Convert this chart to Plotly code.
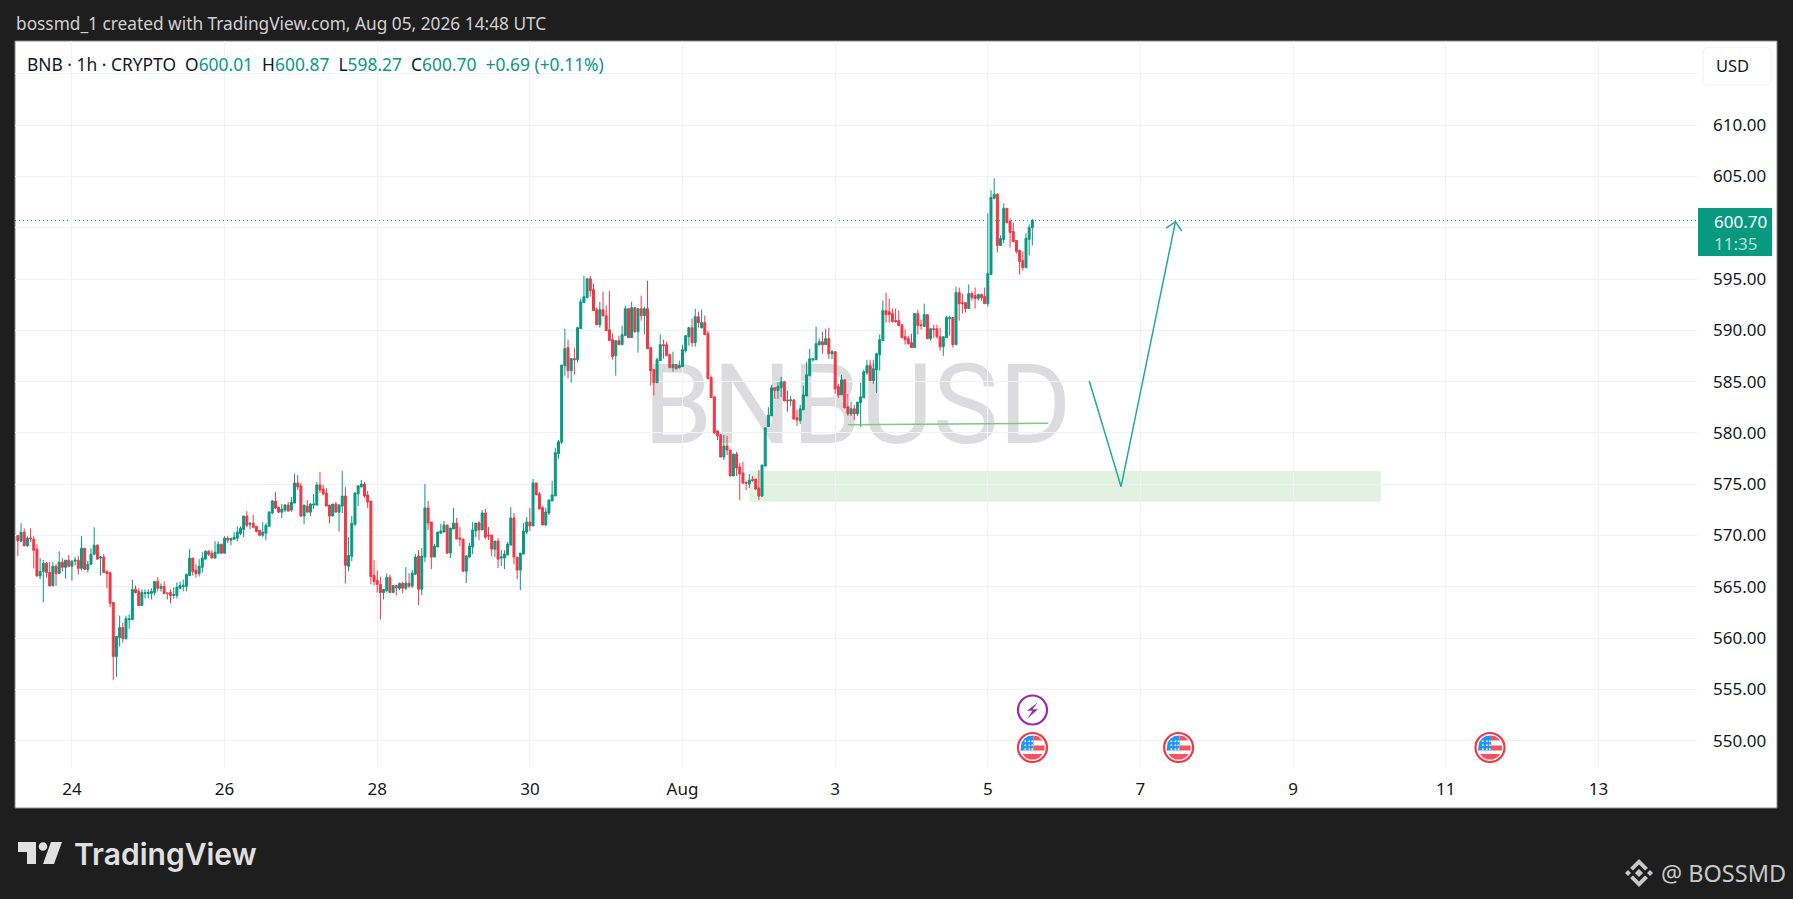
import pandas as pd
import plotly.graph_objects as go

opens = [
    570.0, 569.45, 570.33, 569.0, 569.77, 569.64, 568.66, 566.05, 566.5, 567.3,
    566.4, 565.1, 567.0, 566.3, 567.4, 566.9, 567.6, 567.0, 567.5, 567.6,
    566.8, 568.76, 566.7, 567.2, 568.17, 569.05, 567.8, 567.9, 566.5, 566.4,
    563.47, 558.2, 560.05, 561.03, 559.95, 561.8, 561.8, 564.75, 564.55, 563.18,
    564.35, 564.35, 564.35, 564.45, 565.53, 564.85, 565.04, 564.4, 564.45, 564.16,
    564.16, 564.85, 565.04, 565.04, 566.1, 567.8, 566.6, 566.3, 566.9, 567.7,
    568.47, 568.27, 567.8, 568.27, 569.15, 568.27, 569.74, 569.55, 569.64, 569.74,
    570.2, 570.6, 571.9, 571.1, 571.2, 570.9, 570.5, 570.03, 570.23, 570.9,
    572.2, 573.36, 572.77, 572.28, 572.48, 572.97, 572.48, 573.16, 575.12, 574.83,
    571.9, 572.87, 572.28, 572.97, 572.97, 574.93, 574.53, 574.14, 572.97, 571.9,
    573.07, 572.28, 572.87, 573.85, 567.0, 567.98, 571.1, 574.05, 574.73, 575.02,
    573.95, 573.36, 566.12, 565.63, 565.24, 564.45, 564.65, 565.92, 564.45, 565.14,
    564.85, 565.36, 564.87, 565.36, 565.07, 566.24, 568.0, 564.77, 567.9, 572.69,
    571.32, 567.9, 568.88, 570.24, 570.34, 571.03, 568.29, 570.64, 571.22, 569.76,
    569.66, 566.53, 567.9, 568.88, 570.44, 571.22, 570.54, 572.2, 570.05, 570.05,
    568.68, 569.46, 567.8, 567.8, 568.1, 569.07, 571.71, 567.9, 566.63, 568.19,
    570.34, 571.32, 570.93, 575.13, 574.05, 572.69, 571.03, 572.2, 573.37, 573.86,
    577.97, 579.1, 586.56, 588.31, 586.07, 587.24, 587.14, 590.16, 592.69, 593.18,
    595.03, 593.96, 592.01, 590.55, 592.01, 591.43, 590.06, 589.09, 587.53, 588.99,
    588.6, 589.48, 592.11, 589.29, 592.21, 589.87, 592.11, 591.43, 592.11, 588.31,
    586.17, 584.9, 587.05, 588.6, 588.6, 587.63, 586.36, 586.66, 586.37, 586.46,
    588.02, 589.38, 590.26, 588.8, 591.33, 590.26, 590.75, 589.68, 585.39, 583.52,
    580.2, 579.8, 577.65, 578.73, 578.34, 575.8, 577.95, 576.68, 576.09, 575.21,
    575.02, 575.45, 575.5, 574.63, 573.84, 576.77, 580.62, 581.66, 584.4, 584.14,
    584.4, 584.98, 583.22, 583.13, 583.22, 581.47, 581.2, 582.25, 583.6, 585.57,
    587.13, 587.13, 588.6, 588.89, 588.6, 589.19, 587.72, 587.92, 584.53, 583.71,
    585.18, 582.54, 581.86, 582.35, 581.86, 582.94, 583.42, 585.87, 586.55, 585.08,
    586.16, 587.62, 588.99, 591.92, 591.82, 591.63, 590.95, 590.95, 590.55, 589.38,
    589.19, 588.8, 588.31, 591.63, 590.55, 590.36, 591.53, 589.19, 590.16, 590.16,
    589.38, 588.4, 589.28, 591.14, 591.24, 588.6, 593.68, 592.7, 592.7, 592.12,
    593.58, 593.39, 593.09, 593.48, 593.29, 592.6, 595.44, 602.87, 603.26, 598.27,
    598.86, 601.89, 600.62, 599.64, 598.76, 597.79, 596.81, 596.12, 598.86, 600.01,
]
closes = [
    569.5, 570.33, 569.0, 569.74, 569.68, 568.56, 566.05, 566.5, 567.3, 566.4,
    565.1, 567.0, 566.3, 567.4, 566.9, 567.6, 567.0, 567.5, 567.6, 566.8,
    568.76, 566.7, 567.2, 568.17, 569.05, 567.7, 567.9, 566.4, 566.3, 563.4,
    558.2, 560.15, 561.03, 559.95, 561.9, 561.9, 564.75, 564.45, 563.18, 564.45,
    564.45, 564.45, 564.55, 565.53, 564.85, 565.04, 564.35, 564.35, 564.16, 564.26,
    564.95, 565.14, 565.14, 566.2, 567.8, 566.5, 566.3, 567.0, 567.8, 568.47,
    568.17, 567.8, 568.37, 569.15, 568.27, 569.74, 569.55, 569.74, 569.84, 570.33,
    570.7, 571.9, 571.0, 571.2, 570.8, 570.4, 570.03, 570.33, 571.0, 572.28,
    573.36, 572.68, 572.28, 572.58, 572.97, 572.38, 573.26, 575.12, 574.73, 571.9,
    572.97, 572.28, 573.07, 573.07, 574.93, 574.44, 574.05, 572.87, 571.9, 573.07,
    572.28, 572.97, 573.85, 567.1, 568.07, 571.2, 574.14, 574.83, 575.02, 573.85,
    573.26, 566.0, 565.53, 565.24, 564.45, 564.75, 565.92, 564.45, 565.14, 564.9,
    565.33, 564.87, 565.36, 565.07, 566.33, 567.9, 564.77, 568.0, 572.69, 571.22,
    567.9, 568.97, 570.34, 570.44, 571.03, 568.29, 570.73, 571.22, 569.66, 569.66,
    566.53, 568.0, 568.97, 570.54, 571.22, 570.54, 572.2, 569.85, 569.95, 568.68,
    569.46, 567.7, 567.9, 568.19, 569.17, 571.71, 567.9, 566.63, 568.29, 570.44,
    571.32, 570.93, 575.13, 573.96, 572.59, 571.03, 572.3, 573.47, 573.96, 578.07,
    579.13, 586.62, 588.21, 586.07, 587.24, 587.14, 590.26, 592.79, 593.28, 595.03,
    593.86, 591.92, 590.55, 592.01, 591.43, 589.97, 589.0, 587.44, 588.99, 588.6,
    589.58, 592.11, 589.29, 592.21, 589.87, 592.11, 591.43, 592.11, 588.21, 586.07,
    584.9, 587.14, 588.6, 588.5, 587.53, 586.36, 586.66, 586.27, 586.56, 588.12,
    589.48, 590.26, 588.8, 591.33, 590.75, 590.75, 589.58, 585.29, 583.44, 580.0,
    579.71, 577.65, 578.73, 578.34, 575.8, 577.95, 576.58, 575.99, 575.11, 575.11,
    575.4, 575.38, 574.53, 573.84, 576.87, 580.5, 581.73, 584.4, 584.14, 584.53,
    584.98, 583.13, 583.13, 583.22, 581.37, 581.27, 582.35, 583.71, 585.67, 587.23,
    587.23, 588.7, 588.89, 588.6, 589.19, 587.72, 587.92, 584.3, 583.71, 585.18,
    582.44, 581.86, 582.35, 581.86, 583.0, 583.52, 585.96, 586.55, 585.08, 586.25,
    587.72, 589.09, 591.92, 591.53, 591.53, 590.85, 590.85, 590.46, 589.28, 589.09,
    588.7, 588.31, 591.63, 590.46, 590.46, 591.53, 589.19, 590.16, 590.07, 589.38,
    588.4, 589.38, 591.24, 591.24, 588.6, 593.68, 592.6, 592.6, 592.12, 593.58,
    593.19, 593.09, 593.48, 593.19, 592.6, 595.54, 602.96, 603.26, 598.27, 598.96,
    601.89, 600.52, 599.54, 598.66, 597.69, 596.71, 596.12, 598.96, 600.03, 600.70,
]
highs = [
    570.0, 571.2, 570.7, 569.93, 570.7, 569.93, 569.15, 567.8, 567.6, 567.4,
    567.4, 567.4, 567.2, 568.47, 567.8, 567.6, 568.1, 567.6, 567.9, 568.0,
    569.93, 568.76, 567.5, 568.76, 570.8, 569.15, 568.0, 568.2, 566.6, 566.4,
    563.47, 560.25, 562.2, 561.5, 562.2, 562.3, 565.7, 565.14, 564.85, 564.75,
    564.75, 564.75, 564.85, 565.53, 565.92, 565.33, 565.53, 564.45, 564.75, 564.95,
    565.43, 565.53, 565.72, 566.3, 568.66, 567.8, 567.2, 567.7, 568.37, 568.56,
    568.56, 568.56, 569.45, 569.45, 569.15, 569.93, 569.93, 569.74, 570.33, 570.9,
    570.9, 571.9, 572.38, 571.3, 572.0, 570.9, 570.5, 571.3, 571.2, 572.38,
    573.46, 574.24, 572.77, 573.07, 573.07, 573.26, 573.75, 576.0, 575.9, 575.12,
    572.97, 573.46, 573.16, 574.05, 575.22, 576.2, 574.93, 574.63, 572.97, 573.07,
    573.26, 573.07, 576.3, 574.73, 569.84, 571.9, 574.24, 574.93, 575.42, 575.22,
    574.34, 573.36, 567.6, 566.6, 566.0, 564.75, 566.3, 566.2, 565.14, 565.14,
    565.43, 565.46, 566.92, 566.33, 566.63, 568.19, 568.58, 568.78, 575.03, 573.37,
    571.32, 569.17, 570.34, 571.12, 571.42, 571.03, 570.73, 572.69, 571.71, 570.83,
    569.66, 568.1, 569.27, 571.32, 571.22, 571.42, 572.49, 572.59, 570.83, 570.05,
    569.46, 569.76, 568.58, 568.58, 569.37, 572.79, 572.2, 567.9, 568.29, 571.22,
    571.8, 572.69, 575.52, 575.13, 574.25, 572.88, 572.69, 573.47, 575.33, 578.55,
    579.33, 586.62, 590.16, 589.09, 587.24, 588.31, 590.26, 593.08, 595.32, 595.03,
    595.32, 594.55, 592.21, 592.79, 593.77, 592.4, 593.86, 589.68, 588.99, 589.48,
    590.45, 592.4, 592.11, 592.79, 592.3, 592.11, 593.38, 592.3, 594.84, 588.31,
    586.17, 587.34, 589.58, 589.09, 588.9, 587.63, 587.92, 586.66, 587.05, 588.6,
    589.48, 590.26, 591.14, 592.11, 591.82, 592.01, 591.43, 589.97, 585.58, 583.52,
    580.2, 579.9, 579.8, 579.7, 578.34, 577.95, 578.14, 577.07, 577.17, 575.21,
    575.99, 575.81, 575.5, 576.38, 576.87, 580.5, 582.5, 584.69, 584.4, 584.95,
    585.47, 585.08, 584.1, 583.62, 583.32, 582.25, 582.74, 584.6, 586.94, 588.21,
    587.23, 590.36, 589.19, 589.87, 590.16, 590.26, 588.11, 587.92, 584.79, 585.67,
    585.18, 583.8, 583.03, 582.74, 583.03, 584.89, 586.16, 587.13, 587.13, 587.13,
    587.82, 589.58, 592.9, 593.68, 593.09, 592.12, 592.12, 591.92, 590.55, 590.07,
    589.48, 589.67, 591.63, 592.02, 591.04, 592.6, 591.53, 590.16, 590.55, 590.55,
    590.26, 589.38, 591.43, 591.43, 591.24, 594.27, 594.17, 593.58, 592.7, 594.46,
    593.78, 594.17, 593.58, 593.58, 594.17, 601.4, 603.65, 604.82, 603.35, 599.25,
    602.38, 601.89, 600.91, 600.52, 598.76, 597.79, 597.69, 599.45, 600.33, 600.87,
]
lows = [
    568.0, 569.4, 569.0, 568.9, 569.35, 566.8, 566.05, 565.76, 563.5, 565.9,
    565.04, 565.1, 565.1, 566.3, 566.5, 565.8, 566.9, 565.6, 567.1, 566.2,
    566.6, 566.7, 566.4, 567.1, 568.17, 567.7, 566.1, 566.4, 564.85, 563.0,
    555.94, 556.23, 559.17, 559.56, 559.85, 560.9, 561.8, 564.35, 563.18, 563.18,
    563.87, 563.87, 563.77, 564.16, 564.55, 564.55, 564.35, 563.77, 563.37, 563.87,
    563.87, 564.85, 564.55, 564.55, 566.1, 566.1, 565.9, 566.0, 566.4, 567.7,
    568.0, 567.8, 567.8, 568.27, 568.27, 568.27, 569.25, 569.05, 569.55, 569.45,
    570.03, 569.84, 570.8, 570.6, 570.7, 570.3, 569.93, 569.84, 569.55, 570.9,
    572.09, 572.58, 572.19, 571.7, 572.28, 572.38, 572.28, 573.16, 574.44, 571.8,
    571.1, 572.28, 571.9, 572.58, 572.97, 574.14, 573.95, 572.87, 571.2, 571.9,
    572.28, 570.4, 572.19, 565.33, 566.5, 567.5, 570.9, 572.87, 574.73, 573.65,
    572.68, 565.24, 565.14, 564.45, 561.8, 563.77, 564.45, 564.45, 564.45, 564.16,
    564.7, 564.38, 564.67, 564.87, 564.87, 566.14, 563.21, 564.19, 567.41, 570.54,
    566.73, 567.9, 568.88, 570.15, 570.34, 568.19, 567.8, 570.64, 569.66, 568.97,
    566.43, 565.36, 567.9, 568.19, 569.85, 569.56, 570.54, 569.66, 569.56, 568.0,
    567.9, 566.82, 567.02, 566.73, 568.1, 569.07, 567.2, 565.75, 564.67, 568.19,
    570.15, 570.44, 570.93, 573.96, 572.59, 571.03, 570.93, 572.0, 573.37, 573.86,
    577.48, 578.9, 585.58, 585.29, 584.9, 585.68, 586.85, 590.16, 592.69, 593.18,
    593.28, 591.92, 590.55, 590.26, 591.33, 589.97, 589.0, 587.14, 585.58, 588.6,
    588.6, 589.48, 589.29, 589.29, 589.77, 587.82, 590.94, 589.58, 588.21, 584.61,
    583.64, 584.9, 587.05, 587.24, 587.53, 586.36, 585.97, 586.17, 586.27, 586.46,
    587.82, 588.51, 588.41, 588.41, 590.26, 590.16, 589.58, 585.29, 583.44, 579.9,
    579.32, 577.65, 577.36, 577.85, 575.8, 575.8, 575.8, 573.45, 575.02, 574.43,
    574.63, 575.23, 574.43, 573.45, 573.84, 576.7, 580.62, 581.66, 583.32, 583.32,
    583.5, 583.13, 582.05, 582.6, 581.27, 580.68, 580.88, 582.25, 583.6, 585.57,
    586.94, 587.13, 588.5, 587.72, 588.6, 587.23, 587.2, 583.81, 583.42, 583.71,
    582.44, 581.66, 581.66, 581.27, 581.66, 580.6, 583.42, 585.67, 585.08, 584.79,
    583.91, 586.06, 588.99, 590.75, 590.75, 590.75, 590.75, 590.46, 589.28, 588.6,
    588.6, 588.31, 588.31, 589.58, 590.07, 590.36, 589.19, 589.0, 589.28, 589.19,
    588.01, 587.52, 589.28, 589.48, 588.31, 588.6, 590.94, 591.63, 591.73, 592.12,
    592.9, 592.12, 592.9, 592.9, 592.6, 592.31, 595.44, 602.77, 597.59, 598.27,
    598.47, 600.42, 598.08, 598.66, 597.49, 595.44, 595.83, 596.03, 597.3, 598.27,
]

price_ticks = [550, 555, 560, 565, 570, 575, 580, 585, 590, 595, 600, 605, 610, 615]
price_labels = ["550.00", "555.00", "560.00", "565.00", "570.00", "575.00", "580.00",
                "585.00", "590.00", "595.00", "", "605.00", "610.00", ""]
date_ticks = ["2026-07-24", "2026-07-26", "2026-07-28", "2026-07-30", "2026-08-01", "2026-08-03",
              "2026-08-05", "2026-08-07", "2026-08-09", "2026-08-11", "2026-08-13"]
date_labels = ["24", "26", "28", "30", "Aug", "3", "5", "7", "9", "11", "13"]

# drawings on the chart, in chart units
zone_times = ["2026-08-01 21:00", "2026-08-10 03:36"]
zone_prices = [573.29, 576.29]
level_times = ["2026-08-03 04:00", "2026-08-05 19:00"]
level_prices = [580.8, 580.94]
arrow_times = ["2026-08-06 07:54", "2026-08-06 17:54", "2026-08-07 11:00", None,
               "2026-08-07 08:06", "2026-08-07 11:00", "2026-08-07 13:00"]
arrow_prices = [585.06, 574.76, 600.59, None, 599.97, 600.59, 599.68]

UP = "#089981"
DOWN = "#f23645"
INK = "#131722"
GRID = "#f2f2f4"
FONT = "Noto Sans"

# plot pane edges in page pixels
L, R, T, B = 15, 1697, 41, 767


def xp(px):
    return (px - L) / (R - L)


def yp(py):
    return (B - py) / (B - T)


def poly(cx, cy, pts, color):
    path = "M" + " L".join(f"{xp(cx + dx):.5f},{yp(cy + dy):.5f}" for dx, dy in pts) + " Z"
    return dict(type="path", xref="paper", yref="paper", path=path,
                fillcolor=color, line=dict(width=0), layer="above")


def rect(x0, y0, x1, y1, fill, line="rgba(0,0,0,0)", width=0, layer="above"):
    return dict(type="rect", xref="paper", yref="paper", x0=xp(x0), x1=xp(x1), y0=yp(y0), y1=yp(y1),
                fillcolor=fill, line=dict(color=line, width=width), layer=layer)


def circle(cx, cy, r, fill, line, width):
    return dict(type="circle", xref="paper", yref="paper", x0=xp(cx - r), x1=xp(cx + r),
                y0=yp(cy + r), y1=yp(cy - r), fillcolor=fill, line=dict(color=line, width=width),
                layer="above")


def flag(cx, cy):
    items = [circle(cx, cy, 14.5, "white", DOWN, 2.2)]
    items.append(poly(cx, cy, [(-12, 3), (-11, -5), (-8, -9), (-4, -11.5), (1, -12), (1, 3)], "#2196f3"))
    items.append(poly(cx, cy, [(1, -12), (6, -11), (10, -7), (1, -7)], "#f7525f"))
    items.append(poly(cx, cy, [(1, -2), (12, -2), (12, 3), (1, 3)], "#f7525f"))
    items.append(poly(cx, cy, [(-10, 6.5), (10, 6.5), (7, 10), (3, 12), (-3, 12), (-7, 10)], "#f7525f"))
    for dx in (-8, -4, 0 - 1):
        for dy in (-7, -3, 1):
            items.append(rect(cx + dx, cy + dy, cx + dx + 1.6, cy + dy + 1.6, "white"))
    return items


def text(px, py, s, size, color, anchor="left", weight=None, family=FONT):
    return dict(xref="paper", yref="paper", x=xp(px), y=yp(py), text=s, showarrow=False,
                xanchor=anchor, yanchor="middle", align=anchor,
                font=dict(family=family, size=size, color=color, weight=weight))


times = pd.date_range("2026-07-23 07:00", periods=len(closes), freq="h")

fig = go.Figure()
fig.add_trace(go.Candlestick(
    x=times, open=opens, high=highs, low=lows, close=closes,
    increasing=dict(line=dict(color=UP, width=1), fillcolor=UP),
    decreasing=dict(line=dict(color=DOWN, width=1), fillcolor=DOWN),
    whiskerwidth=0, hoverinfo="skip", showlegend=False,
))
fig.add_trace(go.Scatter(x=level_times, y=level_prices, mode="lines", hoverinfo="skip", showlegend=False,
                         line=dict(color="#81c784", width=1.5)))
fig.add_trace(go.Scatter(x=arrow_times, y=arrow_prices, mode="lines", hoverinfo="skip", showlegend=False,
                         connectgaps=False, line=dict(color="#22ab94", width=1.5)))

shapes = [
    rect(15, 41, 1777, 808, "white", "#8a8a8a", 1, layer="below"),
    dict(type="rect", xref="x", yref="y", x0=zone_times[0], x1=zone_times[1], y0=zone_prices[0],
         y1=zone_prices[1], fillcolor="rgba(76,175,80,0.17)", line=dict(width=0), layer="below"),
    dict(type="rect", xref="x", yref="y", x0="2026-08-01 07:00", x1="2026-08-05 07:00", y0=575.5, y1=591.5,
         fillcolor="rgba(0,0,0,0)", line=dict(width=0), layer="below",
         label=dict(text="BNBUSD", textposition="middle center",
                    font=dict(family="Roboto", size=111, color="#dcdcde"))),
    dict(type="line", xref="paper", yref="y", x0=0, x1=1, y0=closes[-1], y1=closes[-1],
         line=dict(color=UP, width=1, dash="1px,3px"), layer="below"),
    rect(1698, 208, 1772, 256, UP),
    dict(type="path", xref="paper", yref="paper", fillcolor="white", line=dict(color="#f0f0f3", width=1),
         path=(f"M{xp(1709)},{yp(47)} L{xp(1765)},{yp(47)} Q{xp(1771)},{yp(47)} {xp(1771)},{yp(53)} "
               f"L{xp(1771)},{yp(79)} Q{xp(1771)},{yp(85)} {xp(1765)},{yp(85)} L{xp(1709)},{yp(85)} "
               f"Q{xp(1703)},{yp(85)} {xp(1703)},{yp(79)} L{xp(1703)},{yp(53)} Q{xp(1703)},{yp(47)} "
               f"{xp(1709)},{yp(47)} Z")),
    # event badges
    circle(1032.5, 710, 14.5, "white", "#9c27b0", 2.2),
    poly(1032.5, 710, [(5.4, -7.7), (-5.4, 0.7), (0, 0.7), (-5.4, 9), (5.4, -0.7), (0, -0.7)], "#9c27b0"),
    # TradingView logo
    poly(0, 0, [(18, 842), (36, 842), (36, 864), (27, 864), (27, 852), (18, 852)], "#e0e0e0"),
    circle(43, 846.5, 4.3, "#e0e0e0", "#e0e0e0", 0),
    poly(0, 0, [(51, 842), (62, 842), (54, 864), (43, 864)], "#e0e0e0"),
    # Binance mark
    poly(1639, 873, [(0, -4), (4, 0), (0, 4), (-4, 0)], "#c8c8c8"),
    poly(1639, 873, [(-11, -3), (-8, 0), (-11, 3), (-14, 0)], "#c8c8c8"),
    poly(1639, 873, [(11, -3), (14, 0), (11, 3), (8, 0)], "#c8c8c8"),
    poly(1639, 873, [(0, -14), (9, -5), (6, -2.5), (0, -8.5), (-6, -2.5), (-9, -5)], "#c8c8c8"),
    poly(1639, 873, [(0, 14), (9, 5), (6, 2.5), (0, 8.5), (-6, 2.5), (-9, 5)], "#c8c8c8"),
]
for cx in (1032.5, 1178.6, 1490):
    shapes += flag(cx, 747.5)

legend = (
    f'BNB · 1h · CRYPTO  <span style="color:{INK}">O</span><span style="color:{UP}">600.01</span>'
    f'  H<span style="color:{UP}">600.87</span>  L<span style="color:{UP}">598.27</span>'
    f'  C<span style="color:{UP}">600.70</span>  <span style="color:{UP}">+0.69 (+0.11%)</span>'
)
price_tag = '600.70<br><span style="color:#b5e0d8">11:35</span>'
annotations = [
    text(14, 23, "bossmd_1 created with TradingView.com, Aug 05, 2026 14:48 UTC", 17.3, "#d1d1d1"),
    text(25, 64, legend, 17.4, INK),
    text(1732, 65, "USD", 16.5, INK, anchor="center"),
    text(1712, 232, price_tag, 17, "white"),
    text(72, 854, "TradingView", 30, "#e0e0e0", weight=600, family="Inter"),
    text(1659, 873, "@ BOSSMD", 23.5, "#c8c8c8"),
]

fig.update_layout(
    width=1793, height=899,
    margin=dict(l=L, r=1793 - R, t=T, b=899 - B, pad=0),
    paper_bgcolor="#1e1e1e", plot_bgcolor="white",
    boxgap=0.12, showlegend=False, hovermode=False,
    shapes=shapes, annotations=annotations,
    xaxis=dict(
        type="date", range=["2026-07-23 06:06", "2026-08-14 07:00"], rangeslider=dict(visible=False),
        tickmode="array", tickvals=date_ticks, ticktext=date_labels, ticks="", ticklabelstandoff=10,
        showgrid=True, gridcolor=GRID, gridwidth=1, zeroline=False, showline=False,
        tickfont=dict(family=FONT, size=17, color=INK), automargin=False,
    ),
    yaxis=dict(
        side="right", range=[547.44, 618.2], tickmode="array", tickvals=price_ticks, ticktext=price_labels,
        ticks="", ticklabelstandoff=15, showgrid=True, gridcolor=GRID, gridwidth=1, zeroline=False,
        showline=False, tickfont=dict(family=FONT, size=17, color=INK), automargin=False,
    ),
)

fig.write_html("out.html", config=dict(displayModeBar=False),
               post_script="document.body.style.margin='0';document.body.style.overflow='hidden';")
